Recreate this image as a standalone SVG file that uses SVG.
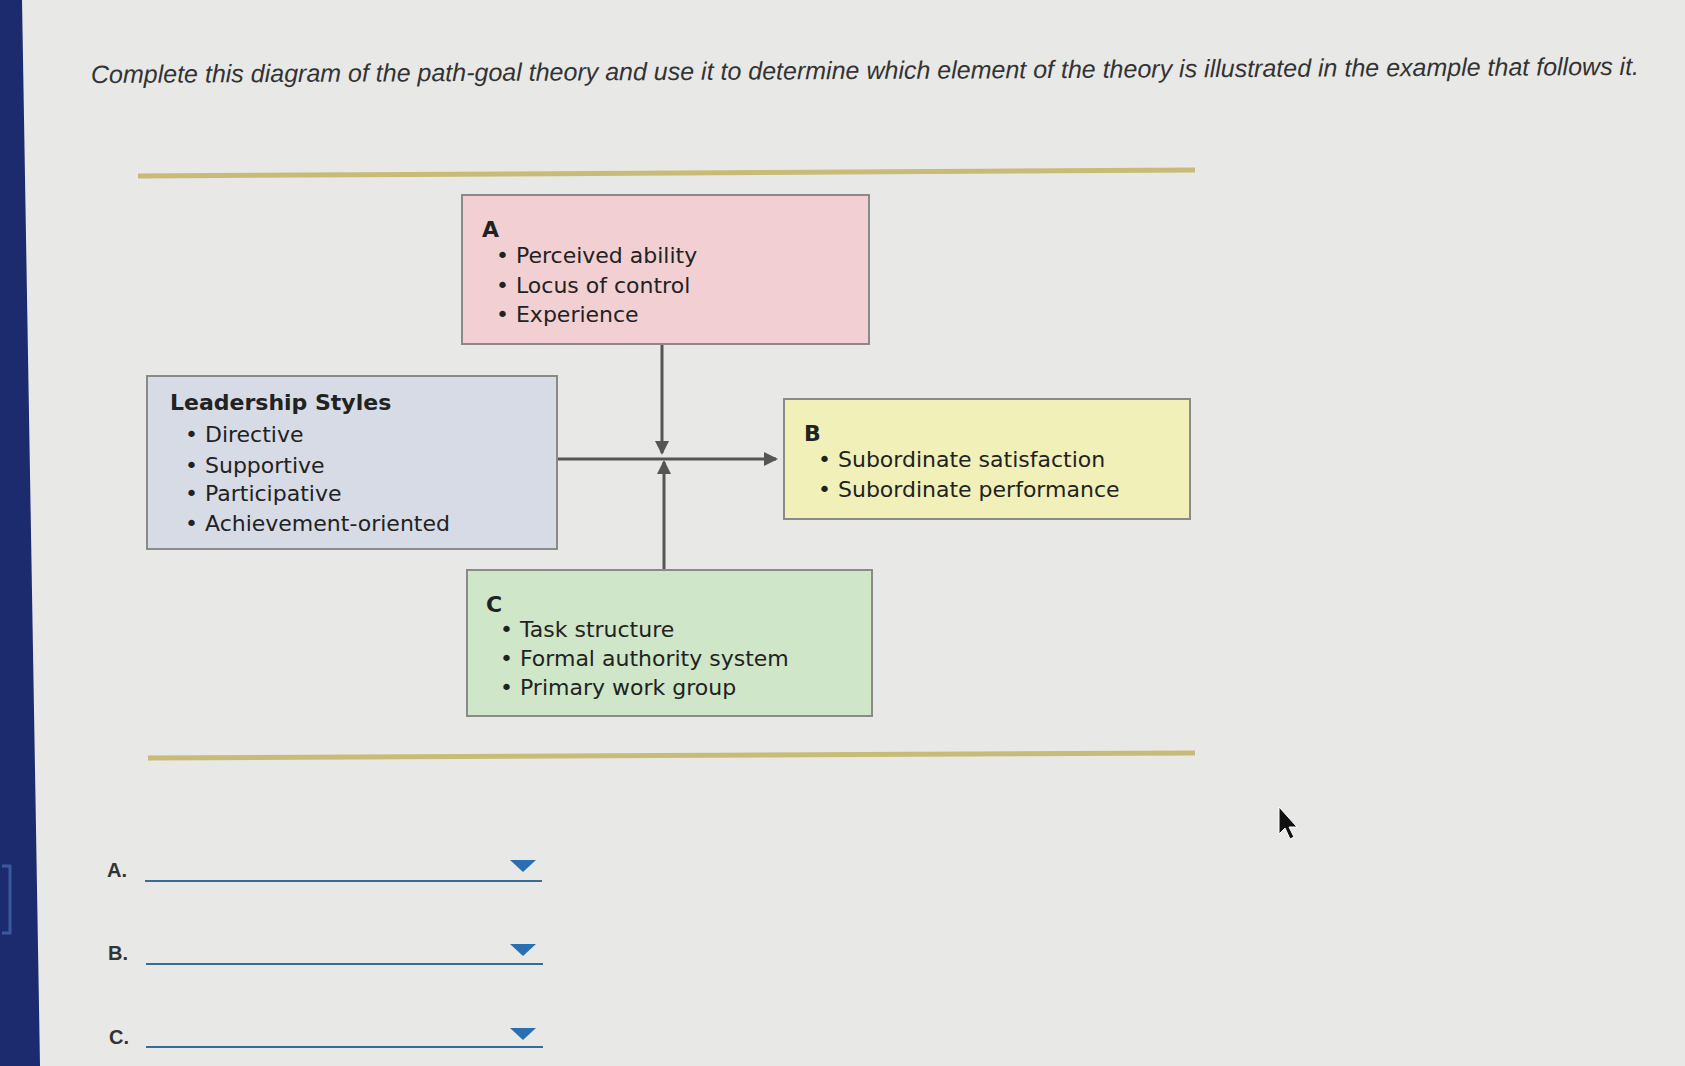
<svg xmlns="http://www.w3.org/2000/svg" width="1685" height="1066" viewBox="0 0 1685 1066">
<style>
.t{font-family:"DejaVu Sans",sans-serif;font-size:22px;fill:#222}
.b{font-weight:bold}
.box{stroke:#8a8a8a;stroke-width:2}
.conn{stroke:#555;stroke-width:3;fill:none}
.gold{stroke:#c8bb78;stroke-width:5}
.sel{stroke:#3a6a9a;stroke-width:2}
</style>
<defs>
<marker id="ah" markerWidth="14" markerHeight="14" refX="12" refY="7" orient="auto" markerUnits="userSpaceOnUse" viewBox="0 0 14 14">
<path d="M0,0 L14,7 L0,14 z" fill="#555"/>
</marker>
</defs>
<rect width="1685" height="1066" fill="#e8e8e6"/>
<polygon points="0,0 22,0 40,1066 0,1066" fill="#1c2a6e"/>
<path d="M2,866 h8 v67 h-8" fill="none" stroke="#3a5aa0" stroke-width="3"/>
<text x="91" y="83" font-family="Liberation Sans, sans-serif" font-size="25" font-style="italic" fill="#333" transform="rotate(-0.3 91 83)">Complete this diagram of the path-goal theory and use it to determine which element of the theory is illustrated in the example that follows it.</text>
<line class="gold" x1="138" y1="176" x2="1195" y2="170"/>
<line class="gold" x1="148" y1="758" x2="1195" y2="753"/>
<g id="connectors">
<line class="conn" x1="557" y1="459" x2="776" y2="459" marker-end="url(#ah)"/>
<line class="conn" x1="662" y1="344" x2="662" y2="453" marker-end="url(#ah)"/>
<line class="conn" x1="664" y1="570" x2="664" y2="462" marker-end="url(#ah)"/>
</g>
<g id="nodeA">
<rect class="box" x="462" y="195" width="407" height="149" fill="#f2cfd2"/>
<text class="t b" x="482" y="237" font-size="24">A</text>
<text class="t" x="496" y="263">• Perceived ability</text>
<text class="t" x="496" y="293">• Locus of control</text>
<text class="t" x="496" y="322">• Experience</text>
</g>
<g id="nodeLS">
<rect class="box" x="147" y="376" width="410" height="173" fill="#d6dbe6"/>
<text class="t b" x="170" y="410">Leadership Styles</text>
<text class="t" x="185" y="442">• Directive</text>
<text class="t" x="185" y="473">• Supportive</text>
<text class="t" x="185" y="501">• Participative</text>
<text class="t" x="185" y="531">• Achievement-oriented</text>
</g>
<g id="nodeB">
<rect class="box" x="784" y="399" width="406" height="120" fill="#f0f0b8"/>
<text class="t b" x="804" y="441" font-size="24">B</text>
<text class="t" x="818" y="467">• Subordinate satisfaction</text>
<text class="t" x="818" y="497">• Subordinate performance</text>
</g>
<g id="nodeC">
<rect class="box" x="467" y="570" width="405" height="146" fill="#cfe6c9"/>
<text class="t b" x="486" y="612" font-size="24">C</text>
<text class="t" x="500" y="637">• Task structure</text>
<text class="t" x="500" y="666">• Formal authority system</text>
<text class="t" x="500" y="695">• Primary work group</text>
</g>
<g id="answers" font-family="Liberation Sans, sans-serif" font-size="20" font-weight="bold" fill="#333">
<text x="107" y="877">A.</text>
<line class="sel" x1="145" y1="881" x2="542" y2="881"/>
<polygon points="510,860 536,860 523,872" fill="#2a6fb0"/>
<text x="108" y="960">B.</text>
<line class="sel" x1="146" y1="964" x2="543" y2="964"/>
<polygon points="510,944 536,944 523,956" fill="#2a6fb0"/>
<text x="109" y="1044">C.</text>
<line class="sel" x1="146" y1="1047" x2="543" y2="1047"/>
<polygon points="510,1028 536,1028 523,1040" fill="#2a6fb0"/>
</g>
<path d="M1279,807 l0,27 l6,-6 l5,11 l4,-2 l-5,-10 l8,0 z" fill="#111" stroke="#fff" stroke-width="1"/>
</svg>
